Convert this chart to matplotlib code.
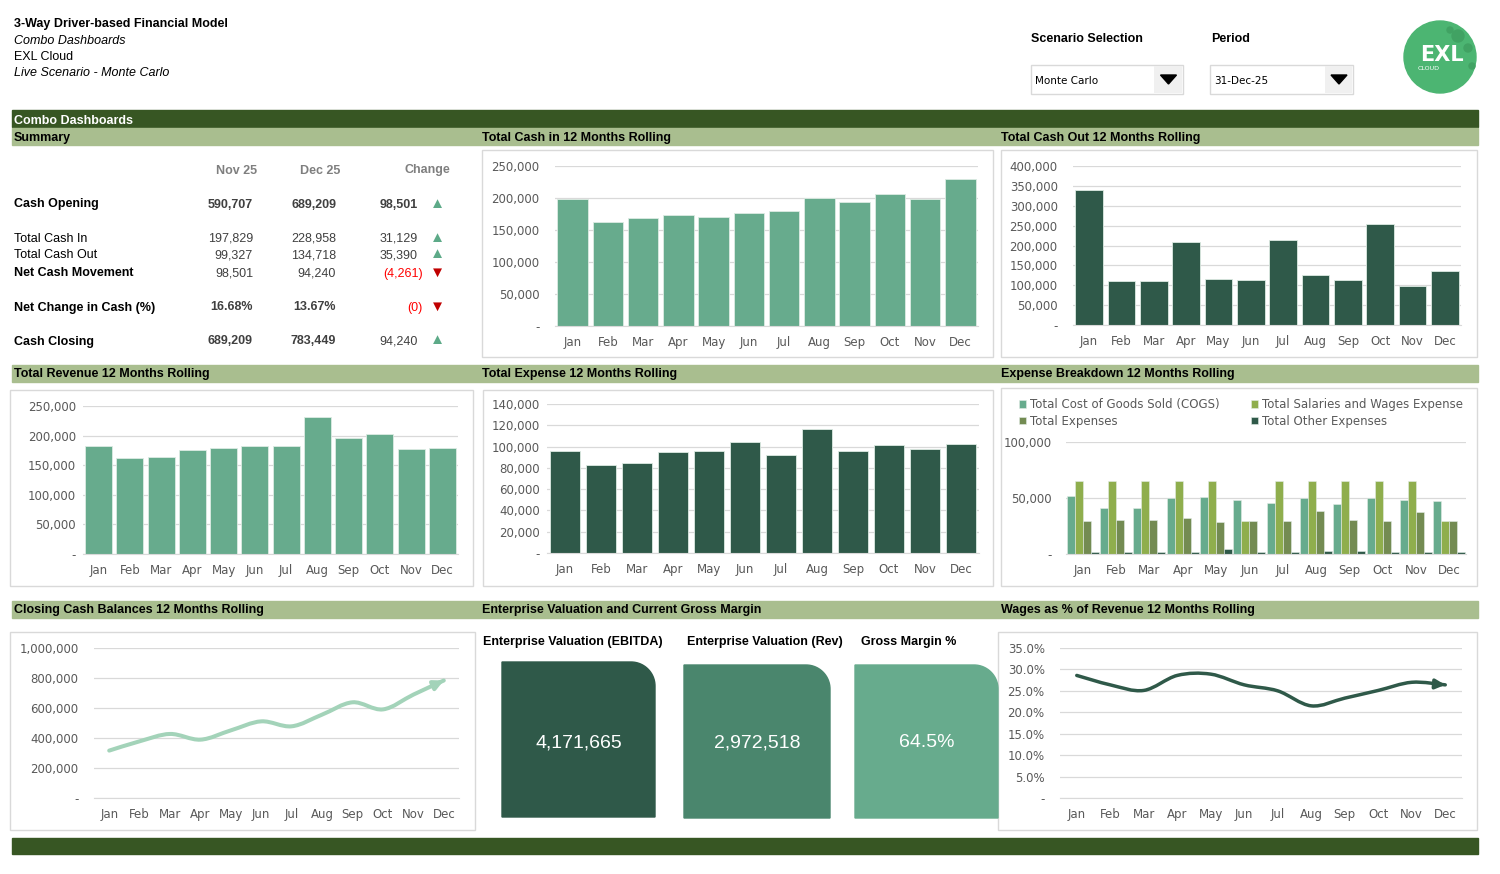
import numpy as np
import matplotlib
matplotlib.use("Agg")
import matplotlib.pyplot as plt
from matplotlib.patches import Rectangle, Polygon, Circle, PathPatch
from matplotlib.path import Path
from matplotlib.ticker import FuncFormatter

# Data
months = ["Jan", "Feb", "Mar", "Apr", "May", "Jun", "Jul", "Aug", "Sep", "Oct", "Nov", "Dec"]
cash_in = [199000, 162000, 168000, 173000, 171000, 177000, 180000, 200500, 194000, 206000, 197829, 228958]
cash_out = [340700, 110000, 111000, 210000, 116000, 114000, 213000, 127000, 113000, 254000, 99327, 134718]
revenue = [182600, 161800, 164600, 176400, 178700, 183100, 182600, 231500, 195500, 202200, 178100, 179800]
expense = [96100, 82900, 84100, 94800, 95700, 104500, 91700, 116100, 96100, 101400, 97300, 102000]
cogs = [51900, 41500, 41500, 50100, 51300, 48100, 45700, 49600, 44800, 50400, 47800, 46900]
salaries = [65000, 65000, 65000, 65000, 65000, 29400, 65300, 65300, 65300, 65300, 65300, 29400]
tot_expenses = [29400, 30300, 30600, 32000, 28800, 29400, 29400, 38600, 30600, 29400, 37400, 29400]
other_exp = [1800, 1800, 1800, 1800, 4200, 1800, 1800, 3000, 2500, 2000, 1800, 2000]
closing_cash = [316000, 378000, 427000, 389000, 451000, 511000, 478000, 556000, 638000, 590707, 689209, 783449]
wages_pct = [28.6, 26.4, 25.1, 28.6, 28.9, 26.4, 25.0, 21.5, 23.3, 25.1, 27.0, 26.4]

breakdown_names = ["Total Cost of Goods Sold (COGS)", "Total Salaries and Wages Expense",
                   "Total Expenses", "Total Other Expenses"]

summary_labels = ["Cash Opening", "Total Cash In", "Total Cash Out", "Net Cash Movement",
                  "Net Change in Cash (%)", "Cash Closing"]
summary_nov = ["590,707", "197,829", "99,327", "98,501", "16.68%", "689,209"]
summary_dec = ["689,209", "228,958", "134,718", "94,240", "13.67%", "783,449"]
summary_chg = ["98,501", "31,129", "35,390", "(4,261)", "(0)", "94,240"]
summary_up = [True, True, True, False, False, True]

valuation_labels = ["Enterprise Valuation (EBITDA)", "Enterprise Valuation (Rev)", "Gross Margin %"]
valuation_values = ["4,171,665", "2,972,518", "64.5%"]

# Colours
DARK_BAND = "#375623"
LIGHT_BAND = "#A9BE8F"
C_LIGHT = "#67AB8D"
C_MID = "#4A866D"
C_DARK = "#2F5949"
C_OLIVE = "#8FAE4D"
C_OLIVE2 = "#738B52"
C_LINE = "#A3D3B9"
GRID = "#D9D9D9"
TXT = "#595959"
FONTS = ["Liberation Sans", "DejaVu Sans"]

W, H = 1500, 874
fig = plt.figure(figsize=(15, 8.74), dpi=100)
bg = fig.add_axes([0, 0, 1, 1])
bg.set_xlim(0, W)
bg.set_ylim(H, 0)
bg.axis("off")


def txt(x, y, s, size=9, weight="normal", style="normal", color="black", ha="left", **kw):
    bg.text(x, y + 1.5, s, fontsize=size, fontweight=weight, fontstyle=style, color=color,
            ha=ha, va="center", family=FONTS, **kw)


def px_ax(x0, y0, x1, y1):
    ax = fig.add_axes([x0 / W, 1 - y1 / H, (x1 - x0) / W, (y1 - y0) / H])
    ax.set_facecolor("none")
    return ax


def frame(x0, y0, x1, y1):
    bg.add_patch(Rectangle((x0, y0), x1 - x0, y1 - y0, fill=False, edgecolor=GRID, lw=1))


def style_axis(ax, ymax, step, pad_y, fmt=None):
    ax.set_xlim(-0.5, 11.5)
    ax.set_ylim(0, ymax)
    ax.set_yticks(np.arange(0, ymax + 1e-9, step))
    if fmt is None:
        fmt = lambda v, p: "-" if v == 0 else f"{v:,.0f}"
    ax.yaxis.set_major_formatter(FuncFormatter(fmt))
    ax.set_xticks(range(12), months)
    ax.grid(axis="y", color=GRID, lw=0.9)
    ax.set_axisbelow(True)
    for s in ["top", "right", "left"]:
        ax.spines[s].set_visible(False)
    ax.spines["bottom"].set_color(GRID)
    ax.tick_params(axis="both", length=0, colors=TXT, labelsize=8.5)
    ax.tick_params(axis="y", pad=pad_y)
    ax.tick_params(axis="x", pad=7)
    ax.set_ylim(0, ymax)


def bar_chart(box, plot, values, color, ymax, step, pad_y):
    frame(*box)
    ax = px_ax(*plot)
    ax.bar(range(12), values, width=0.86, color=color, edgecolor="#DDEBE3", linewidth=0.6)
    style_axis(ax, ymax, step, pad_y)
    return ax


def smooth_path(xs, ys):
    pts = np.column_stack([xs, ys]).astype(float)
    ext = np.vstack([pts[0], pts, pts[-1]])
    verts = [pts[0]]
    codes = [Path.MOVETO]
    for i in range(len(pts) - 1):
        p0, p1, p2, p3 = ext[i], ext[i + 1], ext[i + 2], ext[i + 3]
        verts += [p1 + (p2 - p0) / 6, p2 - (p3 - p1) / 6, p2]
        codes += [Path.CURVE4] * 3
    return Path(verts, codes)


def line_chart(box, plot, values, color, ymax, step, pad_y, lw, fmt=None):
    frame(*box)
    ax = px_ax(*plot)
    style_axis(ax, ymax, step, pad_y, fmt)
    x = np.arange(12)
    ax.add_patch(PathPatch(smooth_path(x, values), fill=False, edgecolor=color, lw=lw,
                           capstyle="round"))
    dy = values[-1] - values[-2]
    ax.annotate("", xy=(11, values[-1]), xytext=(11 - 0.3, values[-1] - dy * 0.3),
                arrowprops=dict(arrowstyle="-|>", color=color, lw=lw, shrinkA=0, shrinkB=0,
                                mutation_scale=14))
    return ax


# Header
txt(14, 22, "3-Way Driver-based Financial Model", weight="bold")
txt(14, 39, "Combo Dashboards", style="italic")
txt(14, 55, "EXL Cloud")
txt(14, 72, "Live Scenario - Monte Carlo", style="italic")

txt(1031, 38, "Scenario Selection", weight="bold")
txt(1211, 38, "Period", weight="bold")
for (x0, x1, xb, label) in [(1031, 1183, 1154, "Monte Carlo"), (1210, 1353, 1325, "31-Dec-25")]:
    bg.add_patch(Rectangle((x0, 65), x1 - x0, 29, facecolor="white", edgecolor=GRID, lw=1))
    bg.add_patch(Rectangle((xb, 66), x1 - xb - 1, 27, facecolor="#F0F0F0", edgecolor="none"))
    cx = (xb + x1) / 2
    bg.add_patch(Polygon([(cx - 8, 75), (cx + 8, 75), (cx, 84)], closed=True, color="black"))
    bg.text(x0 + 4, 81, label, fontsize=7.5, va="center", family=["DejaVu Sans"])

# Logo
bg.add_patch(Circle((1440, 57), 36, color="#4CB572"))
for (cx, cy, r) in [(1458, 36, 6), (1468, 48, 4), (1450, 30, 3), (1472, 66, 3)]:
    bg.add_patch(Circle((cx, cy), r, color="#41A263"))
bg.text(1442, 55, "EXL", fontsize=15, color="white", fontweight="bold", ha="center",
        va="center", family=["DejaVu Sans"])
bg.text(1429, 68, "CLOUD", fontsize=4.5, color="white", ha="center", va="center",
        family=["DejaVu Sans"])

# Bands
bg.add_patch(Rectangle((12, 110), 1466, 17, color=DARK_BAND))
txt(14, 119, "Combo Dashboards", weight="bold", color="white")
for y in [128, 365, 601]:
    bg.add_patch(Rectangle((12, y), 1466, 17, color=LIGHT_BAND))
bg.add_patch(Rectangle((12, 838), 1466, 16, color=DARK_BAND))

section_titles = [
    (14, 136, "Summary"), (482, 136, "Total Cash in 12 Months Rolling"),
    (1001, 136, "Total Cash Out 12 Months Rolling"),
    (14, 373, "Total Revenue 12 Months Rolling"), (482, 373, "Total Expense 12 Months Rolling"),
    (1001, 373, "Expense Breakdown 12 Months Rolling"),
    (14, 609, "Closing Cash Balances 12 Months Rolling"),
    (482, 609, "Enterprise Valuation and Current Gross Margin"),
    (1001, 609, "Wages as % of Revenue 12 Months Rolling"),
]
for x, y, s in section_titles:
    txt(x, y, s, weight="bold")

# Summary table
txt(257, 169, "Nov 25", weight="bold", color="#7F7F7F", ha="right")
txt(340, 169, "Dec 25", weight="bold", color="#7F7F7F", ha="right")
txt(450, 169, "Change", weight="bold", color="#7F7F7F", ha="right")
row_y = [203, 237, 254, 272, 306, 340]
label_bold = [True, False, False, True, True, True]
value_bold = [True, False, False, False, True, True]
chg_bold = [True, False, False, False, False, False]
for i, lab in enumerate(summary_labels):
    y = row_y[i]
    txt(14, y, lab, weight="bold" if label_bold[i] else "normal")
    vw = "bold" if value_bold[i] else "normal"
    txt(253, y, summary_nov[i], weight=vw, color="#404040", ha="right")
    txt(336, y, summary_dec[i], weight=vw, color="#404040", ha="right")
    up = summary_up[i]
    neg = summary_chg[i].startswith("(")
    txt(423 if neg else 418, y, summary_chg[i], weight="bold" if chg_bold[i] else "normal",
        color="#FF0000" if neg else "#404040", ha="right")
    txt(437, y - 1, "\u25B2" if up else "\u25BC", size=11, color="#5DAA88" if up else "#C00000",
        ha="center")

# Bar charts
bar_chart((482, 150, 993, 357), (555, 166, 978, 326), cash_in, C_LIGHT, 250000, 50000, 11)
bar_chart((1001, 150, 1477, 357), (1073, 166, 1461, 325), cash_out, C_DARK, 400000, 50000, 11)
bar_chart((10, 390, 473, 586), (83, 406, 458, 554), revenue, C_LIGHT, 250000, 50000, 5)
bar_chart((483, 390, 993, 586), (547, 404, 979, 553), expense, C_DARK, 140000, 20000, 5)

# Expense breakdown
frame(1001, 388, 1477, 586)
axb = px_ax(1066, 442, 1466, 554)
bw = 0.24
series = [cogs, salaries, tot_expenses, other_exp]
colors = [C_LIGHT, C_OLIVE, C_OLIVE2, C_DARK]
handles = []
for k, (vals, c) in enumerate(zip(series, colors)):
    h = axb.bar(np.arange(12) + (k - 1.5) * bw, vals, width=bw, color=c, edgecolor="#E3ECE6",
                linewidth=0.4)
    handles.append(h)
style_axis(axb, 100000, 50000, 10)
leg_kw = dict(loc="upper left", bbox_transform=fig.transFigure, frameon=False, labelcolor=TXT,
              handlelength=0.6, handleheight=0.6, handletextpad=0.3, labelspacing=0.3,
              borderpad=0, borderaxespad=0, prop={"family": "DejaVu Sans", "size": 8.5})
leg1 = axb.legend([handles[0], handles[2]], [breakdown_names[0], breakdown_names[2]],
                  bbox_to_anchor=(1019 / W, 1 - 398 / H), **leg_kw)
axb.add_artist(leg1)
axb.legend([handles[1], handles[3]], [breakdown_names[1], breakdown_names[3]],
           bbox_to_anchor=(1251 / W, 1 - 398 / H), **leg_kw)

# Line charts
line_chart((10, 632, 475, 830), (94, 648, 459, 798), closing_cash, C_LINE, 1000000, 200000,
           11, 2.9)
line_chart((998, 632, 1477, 830), (1060, 648, 1462, 798), wages_pct, C_DARK, 35, 5, 11, 2.5,
           fmt=lambda v, p: "-" if v == 0 else f"{v:.1f}%")

# Valuation cards
def card(x0, y0, x1, y1, r, color):
    t = np.linspace(0, np.pi / 2, 24)
    arc = list(zip(x1 - r + r * np.sin(t), y0 + r - r * np.cos(t)))
    bg.add_patch(Polygon([(x0, y1), (x0, y0)] + arc + [(x1, y1)], closed=True, color=color))


card_boxes = [(502, 662, 655, 817), (684, 665, 830, 818), (855, 665, 998, 818)]
card_colors = [C_DARK, C_MID, C_LIGHT]
label_x = [483, 687, 861]
for i in range(3):
    txt(label_x[i], 641, valuation_labels[i], weight="bold")
    x0, y0, x1, y1 = card_boxes[i]
    card(x0, y0, x1, y1, 24, card_colors[i])
    txt((x0 + x1) / 2, 741, valuation_values[i], size=14, color="white", ha="center")

fig.savefig("out.png", dpi=100)
